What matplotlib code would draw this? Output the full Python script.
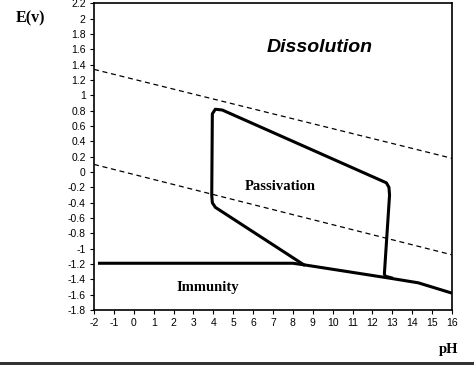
import matplotlib
matplotlib.use('Agg')
import numpy as np
from matplotlib import pyplot as plt

# 电位-pH 图数据
ph_min, ph_max = -2, 16
e_min, e_max = -1.8, 2.2

# 两条虚线（水的稳定区上下限）
upper_dash_ph = [-2, 16]
upper_dash_e = [1.34, 0.18]
lower_dash_ph = [-2, 16]
lower_dash_e = [0.10, -1.08]

# 免疫区上边界
immunity_ph = [-1.8, 8.0, 8.55, 13.0, 14.3, 16.0]
immunity_e = [-1.19, -1.19, -1.21, -1.39, -1.445, -1.58]

# 钝化区轮廓
passive_ph = [8.55, 4.10, 3.95, 3.92, 3.95, 4.10, 4.45, 12.70, 12.83, 12.86, 12.60, 12.65, 12.95]
passive_e = [-1.21, -0.46, -0.40, -0.30, 0.76, 0.82, 0.81, -0.14, -0.20, -0.30, -1.33, -1.36, -1.38]

region_labels = ['Dissolution', 'Passivation', 'Immunity']

plt.rcParams['axes.unicode_minus'] = False
fig = plt.figure(figsize=(4.74, 3.65), dpi=100)
ax = fig.add_axes([94 / 474, 1 - 310 / 365, (452 - 94) / 474, (310 - 3.5) / 365])

ax.plot(upper_dash_ph, upper_dash_e, color='black', linewidth=0.9, linestyle=(0, (4, 3)))
ax.plot(lower_dash_ph, lower_dash_e, color='black', linewidth=0.9, linestyle=(0, (4, 3)))
ax.plot(immunity_ph, immunity_e, color='black', linewidth=2.2, solid_capstyle='butt')
ax.plot(passive_ph, passive_e, color='black', linewidth=2.2, solid_joinstyle='round')

ax.set_xlim(ph_min, ph_max)
ax.set_ylim(e_min, e_max)
x_ticks = np.arange(ph_min, ph_max + 1, 1)
y_ticks = np.round(np.arange(e_min, e_max + 0.01, 0.2), 1) + 0.0
ax.set_xticks(x_ticks)
ax.set_yticks(y_ticks)
ax.set_xticklabels(['{:g}'.format(v) for v in x_ticks])
ax.set_yticklabels(['0' if abs(v) < 1e-9 else '{:g}'.format(v) for v in y_ticks])
ax.tick_params(direction='out', length=3, width=0.8, labelsize=7.5, pad=3, colors='black')
for lab in ax.get_xticklabels() + ax.get_yticklabels():
    lab.set_family('Liberation Sans')
for sp in ax.spines.values():
    sp.set_linewidth(1.2)

ax.text(320 / 474, 1 - 47 / 365, region_labels[0], transform=fig.transFigure,
        family='Liberation Sans', weight='bold', style='italic', fontsize=14,
        ha='center', va='center')
ax.text(280 / 474, 1 - 187 / 365, region_labels[1], transform=fig.transFigure,
        family='Liberation Serif', weight='bold', fontsize=10.5, ha='center', va='center')
ax.text(208 / 474, 1 - 288 / 365, region_labels[2], transform=fig.transFigure,
        family='Liberation Serif', weight='bold', fontsize=10.5, ha='center', va='center')

fig.text(30 / 474, 1 - 18 / 365, 'E(v)', family='Liberation Serif', weight='bold',
         fontsize=11.5, ha='center', va='center')
fig.text(449 / 474, 1 - 349 / 365, 'pH', family='Liberation Serif', weight='bold',
         fontsize=10.5, ha='center', va='center')

# 底部深色分隔条
fig.add_artist(plt.Rectangle((0, 0), 1, 3 / 365, transform=fig.transFigure,
                             color='#333333', linewidth=0))

fig.savefig('out.png', dpi=100)
